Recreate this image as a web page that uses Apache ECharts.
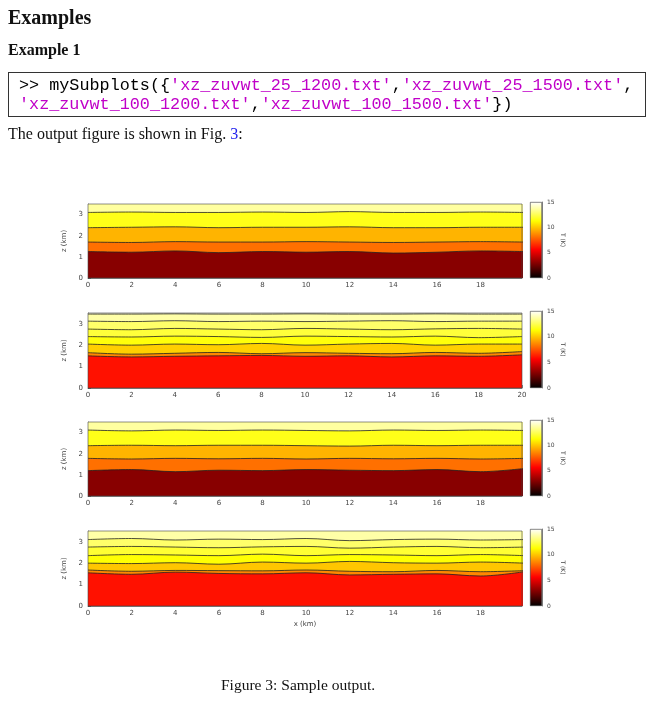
<!DOCTYPE html>
<html><head><meta charset="utf-8">
<script src="https://cdn.jsdelivr.net/npm/echarts@6/dist/echarts.min.js"></script>
<style>
body{margin:0;background:#fff;width:657px;height:705px;position:relative;overflow:hidden;font-family:"Liberation Serif","DejaVu Serif",serif;color:#111}
.t{position:absolute;white-space:nowrap}
#code{position:absolute;left:8px;top:72px;width:638px;height:45px;border:1px solid #333;font-family:"Liberation Mono","DejaVu Sans Mono",monospace;font-size:16.8px;line-height:19px;padding:3px 0 0 10px;box-sizing:border-box;color:#000}
.s{color:#c000c8}
#c{position:absolute;left:0;top:0;width:657px;height:705px}
</style></head><body>
<div id="c"></div>
<div class="t" style="left:8px;top:6px;font-size:20px;font-weight:bold">Examples</div>
<div class="t" style="left:8px;top:41px;font-size:16px;font-weight:bold">Example 1</div>
<div id="code"><div>&gt;&gt; mySubplots({<span class="s">'xz_zuvwt_25_1200.txt'</span>,<span class="s">'xz_zuvwt_25_1500.txt'</span>,</div><div><span class="s">'xz_zuvwt_100_1200.txt'</span>,<span class="s">'xz_zuvwt_100_1500.txt'</span>})</div></div>
<div class="t" style="left:8px;top:125px;font-size:16px">The output figure is shown in Fig. <span style="color:#2222ee">3</span>:</div>
<div class="t" style="left:221px;top:676px;font-size:15.5px">Figure 3: Sample output.</div>
<script>
// x positions (km) at which the contour boundaries are sampled
const xs = [0,2,4,6,8,10,12,14,16,18,20];
const xMax = [19.9, 20, 19.9, 19.9];
// band temperatures (K), bottom to top, per panel
const temps1 = [3.0, 8.1, 9.6, 11.6, 13.6];
const temps2 = [6.0, 8.6, 10.2, 11.4, 12.1, 12.8, 13.7, 14.5];
const temps3 = [3.0, 8.1, 9.6, 11.6, 13.6];
const temps4 = [6.0, 8.6, 10.0, 11.3, 12.0, 12.8, 13.7];
// upper boundaries (km) of each band except the top one
const bounds1 = [
  [1.25,1.22,1.28,1.2,1.25,1.22,1.25,1.18,1.22,1.28,1.25],
  [1.7,1.68,1.72,1.7,1.7,1.72,1.7,1.68,1.7,1.72,1.7],
  [2.38,2.4,2.42,2.38,2.4,2.4,2.42,2.38,2.38,2.4,2.4],
  [3.1,3.12,3.1,3.1,3.12,3.1,3.14,3.1,3.1,3.12,3.1]
];
const bounds2 = [
  [1.5,1.45,1.48,1.5,1.52,1.48,1.5,1.45,1.5,1.48,1.55],
  [1.65,1.58,1.62,1.66,1.6,1.65,1.62,1.6,1.66,1.62,1.7],
  [2.05,2.0,2.05,2.02,2.08,2.0,2.05,2.08,2.0,2.05,2.05],
  [2.4,2.38,2.42,2.4,2.36,2.42,2.4,2.38,2.42,2.35,2.4],
  [2.75,2.72,2.78,2.75,2.72,2.78,2.75,2.72,2.76,2.78,2.75],
  [3.12,3.1,3.14,3.1,3.12,3.1,3.12,3.14,3.1,3.12,3.12],
  [3.45,3.45,3.46,3.45,3.45,3.46,3.45,3.45,3.46,3.45,3.45]
];
const bounds3 = [
  [1.2,1.25,1.15,1.22,1.2,1.25,1.22,1.2,1.25,1.15,1.3],
  [1.78,1.75,1.78,1.76,1.78,1.75,1.78,1.76,1.78,1.75,1.78],
  [2.38,2.4,2.38,2.4,2.4,2.38,2.36,2.4,2.38,2.4,2.4],
  [3.12,3.08,3.12,3.1,3.12,3.1,3.08,3.12,3.1,3.12,3.1]
];
const bounds4 = [
  [1.55,1.48,1.58,1.52,1.5,1.55,1.45,1.48,1.5,1.4,1.6],
  [1.68,1.62,1.66,1.65,1.64,1.68,1.62,1.6,1.66,1.6,1.65],
  [2.0,1.98,2.02,1.95,2.05,2.0,2.08,2.02,2.0,2.05,2.0],
  [2.35,2.4,2.38,2.35,2.42,2.35,2.4,2.38,2.35,2.4,2.35],
  [2.75,2.78,2.75,2.72,2.76,2.78,2.7,2.75,2.78,2.72,2.75],
  [3.1,3.15,3.08,3.12,3.1,3.15,3.05,3.1,3.12,3.08,3.1]
];
const xTicks = [0,2,4,6,8,10,12,14,16,18,20];
const cbTicks = [0,5,10,15];
const panels = [[temps1,bounds1],[temps2,bounds2],[temps3,bounds3],[temps4,bounds4]];

function hot(T){
  const t=Math.max(0,Math.min(1,T/15));
  const c=v=>Math.round(255*Math.max(0,Math.min(1,v)));
  return `rgb(${c(t/0.375)},${c((t-0.375)/0.375)},${c((t-0.75)/0.25)})`;
}
const tops=[204,313,422,531], H=[74,75,74,75];
const grid=[],xAxis=[],yAxis=[],series=[];
const axisTxt={fontSize:7,color:'#444',fontFamily:'DejaVu Sans'};
panels.forEach(([temps,bounds],p)=>{
  const gi=grid.length;
  grid.push({left:88,width:434,top:tops[p],height:H[p],show:true,borderColor:'#444',borderWidth:0.6,backgroundColor:'transparent',z:10});
  xAxis.push({type:'value',gridIndex:gi,min:0,max:xMax[p],interval:2,
    axisLine:{show:true,onZero:false,lineStyle:{color:'#333',width:0.6}},
    axisTick:{inside:true,length:3,lineStyle:{color:'#333',width:0.6}},
    splitLine:{show:false},axisLabel:{...axisTxt,margin:4,showMaxLabel:xMax[p]===20},
    name:p===3?'x (km)':'',nameLocation:'middle',nameGap:15,nameTextStyle:axisTxt});
  yAxis.push({type:'value',gridIndex:gi,min:0,max:3.5,interval:1,
    axisLine:{show:true,lineStyle:{color:'#333',width:0.6}},
    axisTick:{inside:true,length:3,lineStyle:{color:'#333',width:0.6}},
    splitLine:{show:false},axisLabel:{...axisTxt,margin:5,showMaxLabel:false},
    name:'z (km)',nameLocation:'middle',nameGap:13,nameTextStyle:axisTxt});
  const all=[xs.map(()=>3.5),...bounds.slice().reverse()];
  const tt=temps.slice().reverse();
  all.forEach((b,i)=>{
    series.push({type:'line',xAxisIndex:gi,yAxisIndex:gi,symbol:'none',smooth:0.35,
      data:xs.map((x,k)=>[x,b[k]]),
      lineStyle:{color:i===0?'rgba(0,0,0,0)':'#222',width:0.8},
      areaStyle:{color:hot(tt[i]),opacity:1,origin:'start'},z:2+i,silent:true});
  });
  const ci=grid.length;
  grid.push({left:530,width:12,top:tops[p]-2,height:H[p]+2});
  xAxis.push({type:'category',gridIndex:ci,data:['T'],show:false});
  yAxis.push({type:'value',gridIndex:ci,min:0,max:15,interval:5,position:'right',
    axisLine:{show:true,lineStyle:{color:'#333',width:0.6}},axisTick:{show:false},
    splitLine:{show:false},axisLabel:{...axisTxt,margin:5,fontSize:6},
    name:'T (K)',nameLocation:'middle',nameGap:18,nameRotate:-90,nameTextStyle:{...axisTxt,fontSize:6}});
  series.push({type:'bar',xAxisIndex:ci,yAxisIndex:ci,barWidth:'100%',data:[cbTicks[3]],silent:true,
    itemStyle:{borderColor:'#333',borderWidth:0.6,color:new echarts.graphic.LinearGradient(0,1,0,0,
      [0,0.125,0.25,0.375,0.5,0.625,0.75,0.875,1].map(s=>({offset:s,color:hot(s*15)})))}});
});
const chart=echarts.init(document.getElementById('c'));
chart.setOption({animation:false,grid,xAxis,yAxis,series});
</script></body></html>
